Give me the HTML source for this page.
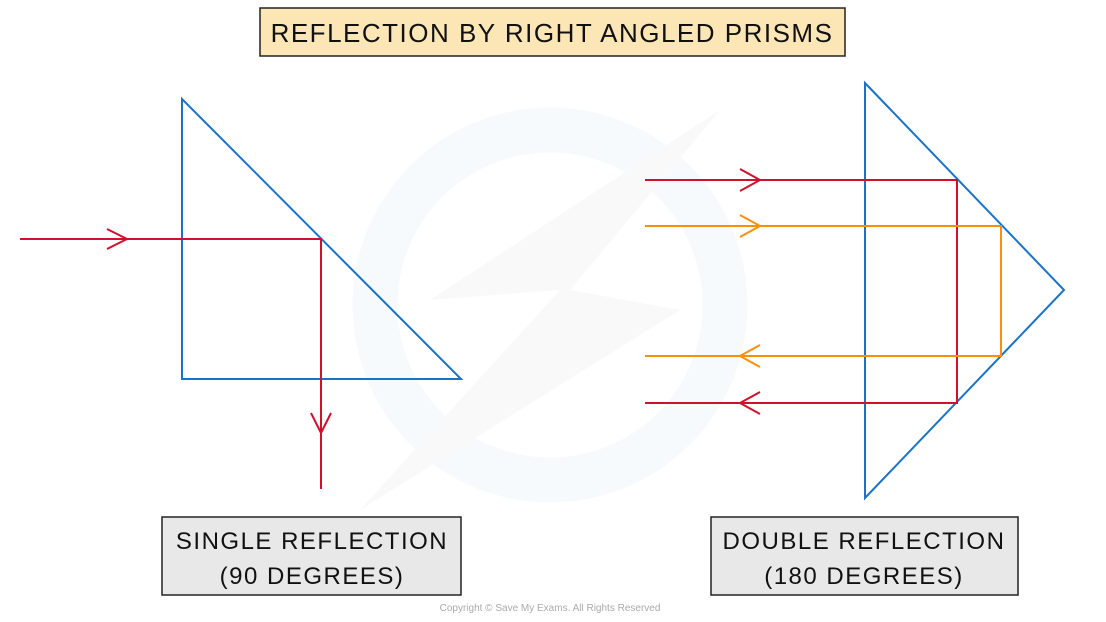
<!DOCTYPE html>
<html><head><style>
body{margin:0;width:1106px;height:617px;background:#fff;overflow:hidden}
svg text{font-family:"Liberation Sans",sans-serif}
</style></head><body>
<svg width="1106" height="617" viewBox="0 0 1106 617">
<circle cx="550" cy="305" r="175" fill="none" stroke="#f7fafd" stroke-width="45"/>
<polygon points="720,110 430,300 560,290 360,510 680,310 570,290" fill="#f9f9f9"/>
<rect x="260" y="8" width="585" height="48" fill="#fde6b6" stroke="#222" stroke-width="1.5"/>
<text x="552" y="42" font-size="26" text-anchor="middle" letter-spacing="1.5" fill="#111">REFLECTION BY RIGHT ANGLED PRISMS</text>
<g fill="none" stroke-width="2">
<polygon points="182,99 182,379 461,379" stroke="#1a73c6"/>
<polyline points="20,239 321,239 321,489" stroke="#d0102c"/>
<polyline points="107,229 127,239 107,249" stroke="#d0102c"/>
<polyline points="311,413 321,433 331,413" stroke="#d0102c"/>
<polygon points="865,83 1064,290 865,498" stroke="#1a73c6"/>
<polyline points="645,180 957,180 957,403 645,403" stroke="#d0102c"/>
<polyline points="645,226 1001,226 1001,356 645,356" stroke="#f7900a"/>
<polyline points="740,169 760,180 740,191" stroke="#d0102c"/>
<polyline points="740,215 760,226 740,237" stroke="#f7900a"/>
<polyline points="760,345 740,356 760,367" stroke="#f7900a"/>
<polyline points="760,392 740,403 760,414" stroke="#d0102c"/>
</g>
<rect x="162" y="517" width="299" height="78" fill="#e8e8e8" stroke="#222" stroke-width="1.5"/>
<text x="312" y="549" font-size="24" text-anchor="middle" letter-spacing="1.5" fill="#111">SINGLE REFLECTION</text>
<text x="312" y="584" font-size="24" text-anchor="middle" letter-spacing="1.5" fill="#111">(90 DEGREES)</text>
<rect x="711" y="517" width="307" height="78" fill="#e8e8e8" stroke="#222" stroke-width="1.5"/>
<text x="864" y="549" font-size="24" text-anchor="middle" letter-spacing="1.5" fill="#111">DOUBLE REFLECTION</text>
<text x="864" y="584" font-size="24" text-anchor="middle" letter-spacing="1.5" fill="#111">(180 DEGREES)</text>
<text x="550" y="611" font-size="10" text-anchor="middle" fill="#aaa">Copyright © Save My Exams. All Rights Reserved</text>
</svg>
</body></html>
